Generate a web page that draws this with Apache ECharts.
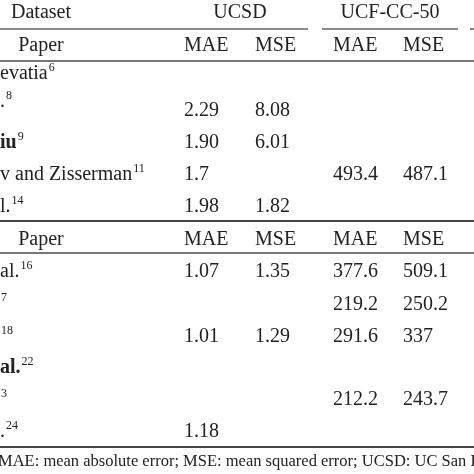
<!DOCTYPE html>
<html><head><meta charset="utf-8">
<script src="https://cdn.jsdelivr.net/npm/echarts@6/dist/echarts.min.js"></script>
<style>html,body{margin:0;padding:0;background:#fff}#main{width:474px;height:474px}</style>
</head><body><div id="main"></div>
<script>
// table content (left column is cropped in the reference)
var headerRow = ['Dataset', 'UCSD', 'UCF-CC-50'];
var subHeader = ['Paper', 'MAE', 'MSE', 'MAE', 'MSE'];
var papers = [
  ['evatia', '6', false], ['.', '8', false], ['iu', '9', true],
  ['v and Zisserman', '11', false], ['l.', '14', false],
  ['al.', '16', false], ['', '7', false], ['', '18', false],
  ['al.', '22', true], ['', '3', false], ['.', '24', false]
];
var ucsdMae = ['', '2.29', '1.90', '1.7', '1.98', '1.07', '', '1.01', '', '', '1.18'];
var ucsdMse = ['', '8.08', '6.01', '', '1.82', '1.35', '', '1.29', '', '', ''];
var ucfMae = ['', '', '', '493.4', '', '377.6', '219.2', '291.6', '', '212.2', ''];
var ucfMse = ['', '', '', '487.1', '', '509.1', '250.2', '337', '', '243.7', ''];
var footnote = 'MAE: mean absolute error; MSE: mean squared error; UCSD: UC San Diego';

// layout (pixel space of the picture)
var colX = [0, 184, 255, 333, 403];
var nameY = [74, 102, 143, 175, 207, 272, 304, 337, 368, 400, 432];
var valY = [74, 111, 143, 175, 207, 272, 305, 337, 368, 400, 432];
var rules = [[0, 308, 29, 1.6, '#666'], [322, 458, 29, 1.6, '#666'], [470, 480, 29, 1.6, '#666'],
  [0, 480, 61, 2, '#777'], [0, 480, 221, 2.2, '#444'], [0, 480, 253, 2, '#777'], [0, 480, 447, 2.2, '#444']];

var FS = 20;
var texts = [];
texts.push([41, 13, headerRow[0], 'center', false, FS]);
texts.push([240, 13, headerRow[1], 'center', false, FS]);
texts.push([390, 13, headerRow[2], 'center', false, FS]);
[46, 240].forEach(function(y){
  texts.push([41, y, subHeader[0], 'center', false, FS]);
  for (var c = 1; c < 5; c++) texts.push([colX[c], y, subHeader[c], 'left', false, FS]);
});
for (var i = 0; i < papers.length; i++) {
  var p = papers[i];
  texts.push([colX[0], nameY[i], (p[0] ? '{' + (p[2] ? 'b' : 'n') + '|' + p[0] + '}' : '') + '{s|' + p[1] + '}', 'left', p[2], FS]);
  [ucsdMae, ucsdMse, ucfMae, ucfMse].forEach(function(arr, c){
    if (arr[i]) texts.push([colX[c + 1], valY[i], arr[i], 'left', false, FS]);
  });
}
texts.push([-2, 462, footnote, 'left', false, 16.5]);

var chart = echarts.init(document.getElementById('main'));
chart.setOption({
  animation: false,
  grid: {left: 0, right: 0, top: 0, bottom: 0},
  xAxis: {type: 'value', min: 0, max: 474, show: false},
  yAxis: {type: 'value', min: 0, max: 474, inverse: true, show: false},
  series: [{
    type: 'custom',
    data: rules,
    renderItem: function(params, api){
      var a = api.coord([api.value(0), api.value(2)]);
      var b = api.coord([api.value(1), api.value(2)]);
      return {type: 'line', shape: {x1: a[0], y1: a[1], x2: b[0], y2: b[1]},
        style: {stroke: rules[params.dataIndex][4], lineWidth: api.value(3)}};
    }
  }, {
    type: 'custom',
    data: texts.map(function(t){ return [t[0], t[1]]; }),
    renderItem: function(params, api){
      var t = texts[params.dataIndex];
      var pt = api.coord([t[0], t[1]]);
      return {type: 'text', x: pt[0], y: pt[1], style: {
        text: t[2], align: t[3], verticalAlign: 'middle', fill: '#222',
        font: (t[4] ? 'bold ' : '') + t[5] + 'px "Liberation Serif"',
        rich: {
          n: {fontFamily: 'Liberation Serif', fontSize: FS, fill: '#222'},
          b: {fontFamily: 'Liberation Serif', fontSize: FS, fontWeight: 'bold', fill: '#222'},
          s: {fontFamily: 'Liberation Serif', fontSize: 12, fill: '#222', verticalAlign: 'top', padding: [0, 0, 12, 1]}
        }
      }};
    }
  }]
});
</script></body></html>
